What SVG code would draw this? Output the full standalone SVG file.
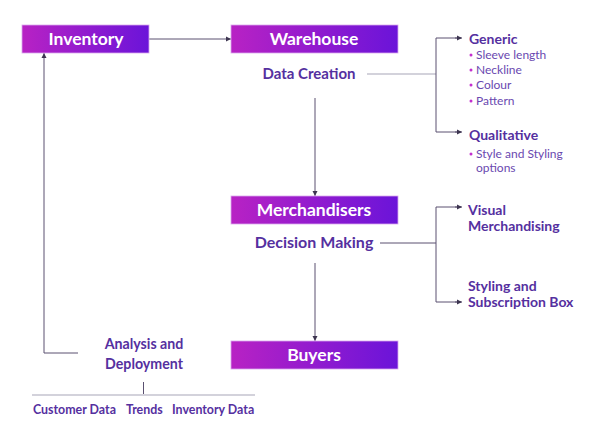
<svg xmlns="http://www.w3.org/2000/svg" width="595" height="445" viewBox="0 0 595 445">
<defs>
<linearGradient id="g" x1="0" y1="0" x2="1" y2="0">
<stop offset="0" stop-color="#b822c4"/>
<stop offset="1" stop-color="#6b14d9"/>
</linearGradient>
<marker id="a" markerWidth="6" markerHeight="6" refX="5" refY="3" orient="auto" markerUnits="userSpaceOnUse">
<path d="M0,0.5 L5,3 L0,5.5 Z" fill="#3d3550"/>
</marker>
<style>
.box{fill:url(#g);stroke:#d9a8ee;stroke-width:0.8}
.bt{font-family:Lato,"Open Sans",sans-serif;font-weight:bold;font-size:17.5px;fill:#fff;text-anchor:middle}
.lb{font-family:Lato,"Open Sans",sans-serif;font-weight:bold;font-size:14px;fill:#55309f}
.lb2{font-family:Lato,"Open Sans",sans-serif;font-weight:bold;font-size:15.5px;fill:#55309f;text-anchor:middle}
.it{font-family:Lato,"Open Sans",sans-serif;font-size:12px;fill:#6a48b0}
.sm{font-family:Lato,"Open Sans",sans-serif;font-weight:bold;font-size:12.4px;fill:#55309f}
.bu{fill:#c42fcf}
.c{fill:none;stroke:#5a5070;stroke-width:1}
.cg{fill:none;stroke:#a8a6b8;stroke-width:1.2}
</style>
</defs>
<rect width="595" height="445" fill="#fff"/>
<g id="connectors">
<line class="c" x1="149" y1="39" x2="231" y2="39" marker-end="url(#a)"/>
<polyline class="c" points="78,353 44,353 44,53" marker-end="url(#a)"/>
<line class="cg" x1="367" y1="74" x2="436" y2="74"/>
<polyline class="c" points="461,38 436,38 436,132 461,132"/>
<line class="c" x1="455" y1="38" x2="462" y2="38" marker-end="url(#a)"/>
<line class="c" x1="455" y1="132" x2="462" y2="132" marker-end="url(#a)"/>
<line class="c" x1="315" y1="98" x2="315" y2="196" marker-end="url(#a)"/>
<line class="c" x1="380" y1="243" x2="436" y2="243"/>
<polyline class="c" points="461,207 436,207 436,302 461,302"/>
<line class="c" x1="455" y1="207" x2="462" y2="207" marker-end="url(#a)"/>
<line class="c" x1="455" y1="302" x2="462" y2="302" marker-end="url(#a)"/>
<line class="c" x1="315" y1="263" x2="315" y2="341" marker-end="url(#a)"/>
<line class="c" x1="143.5" y1="382" x2="143.5" y2="394"/>
<line class="cg" x1="32" y1="395" x2="255" y2="395"/>
</g>
<g id="inventory">
<rect class="box" x="22" y="25" width="127" height="28"/>
<text class="bt" x="86" y="45">Inventory</text>
</g>
<g id="warehouse">
<rect class="box" x="231" y="25" width="167" height="28"/>
<text class="bt" x="314" y="45">Warehouse</text>
</g>
<g id="data-creation">
<text class="lb2" x="309" y="79" style="font-size:15px">Data Creation</text>
</g>
<g id="generic">
<text class="lb" x="469" y="44">Generic</text>
<circle class="bu" cx="471" cy="55" r="1.5"/><text class="it" x="476" y="59">Sleeve length</text>
<circle class="bu" cx="471" cy="70" r="1.5"/><text class="it" x="476" y="74">Neckline</text>
<circle class="bu" cx="471" cy="85" r="1.5"/><text class="it" x="476" y="89">Colour</text>
<circle class="bu" cx="471" cy="101" r="1.5"/><text class="it" x="476" y="105">Pattern</text>
</g>
<g id="qualitative">
<text class="lb" x="469" y="140">Qualitative</text>
<circle class="bu" cx="471" cy="154" r="1.5"/><text class="it" x="476" y="158">Style and Styling</text>
<text class="it" x="476" y="172">options</text>
</g>
<g id="merchandisers">
<rect class="box" x="231" y="196" width="167" height="28"/>
<text class="bt" x="314" y="216">Merchandisers</text>
</g>
<g id="decision-making">
<text class="lb2" x="314" y="248" style="font-size:16px">Decision Making</text>
</g>
<g id="visual">
<text class="lb" x="468" y="215">Visual</text>
<text class="lb" x="468" y="231">Merchandising</text>
</g>
<g id="styling">
<text class="lb" x="468" y="291">Styling and</text>
<text class="lb" x="468" y="307">Subscription Box</text>
</g>
<g id="buyers">
<rect class="box" x="231" y="341" width="167" height="28"/>
<text class="bt" x="314" y="361">Buyers</text>
</g>
<g id="analysis">
<text class="lb2" x="144" y="349" style="font-size:14.2px">Analysis and</text>
<text class="lb2" x="144" y="369" style="font-size:14.2px">Deployment</text>
</g>
<g id="bottom-labels">
<text class="sm" x="33" y="414">Customer Data</text>
<text class="sm" x="126" y="414">Trends</text>
<text class="sm" x="172" y="414">Inventory Data</text>
</g>
</svg>
